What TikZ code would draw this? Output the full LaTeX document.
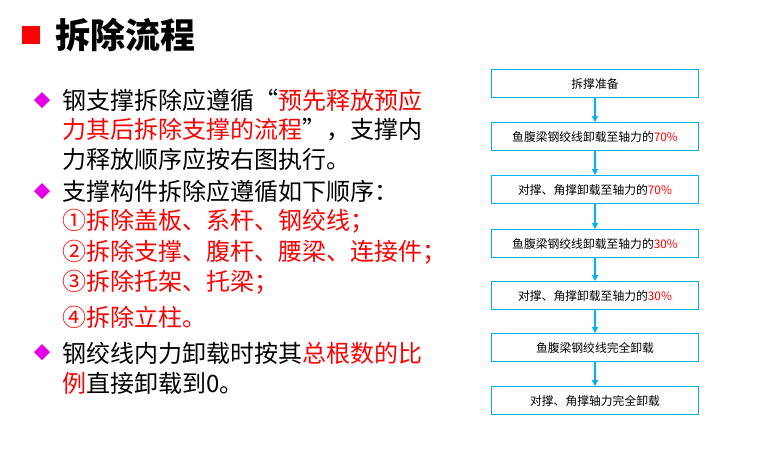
\documentclass[tikz,border=0pt]{standalone}
\usepackage{fontspec}
\setmainfont{Noto Sans CJK SC}
\usetikzlibrary{arrows.meta}
\definecolor{fblue}{RGB}{0,176,240}
\definecolor{tred}{RGB}{255,0,0}
\definecolor{mag}{RGB}{230,0,230}
\begin{document}
\begin{tikzpicture}[x=1pt,y=-1pt,
  fbox/.style={draw=fblue,line width=1.3pt,minimum width=207pt,minimum height=28pt,inner sep=0pt,font=\fontsize{11.8}{13}\selectfont,anchor=north},
  farr/.style={draw=fblue,line width=1.2pt,-{Triangle[length=6pt,width=6pt]}},
  ln/.style={anchor=base west,inner sep=0pt,font=\fontsize{24}{28}\selectfont}]
\useasboundingbox (0,0) rectangle (760,472);
\fill[tred] (22,26) rectangle (40,44);
\node[anchor=base west,inner sep=0pt,font=\fontsize{35}{38}\selectfont\bfseries] (title) at (55,48) {拆除流程};
% bullets
\foreach \y in {100,191,352}{
  \fill[mag] (42,\y-8) -- (50,\y) -- (42,\y+8) -- (34,\y) -- cycle;
}
\node[ln] (l1) at (62,109) {钢支撑拆除应遵循“\textcolor{tred}{预先释放预应}};
\node[ln] (l2) at (62,138) {\textcolor{tred}{力其后拆除支撑的流程}”，支撑内};
\node[ln] (l3) at (62,168) {力释放顺序应按右图执行。};
\node[ln] (l4) at (62,200) {支撑构件拆除应遵循如下顺序：};
\node[ln] (l5) at (62,229) {\textcolor{tred}{①拆除盖板、系杆、钢绞线；}};
\node[ln] (l6) at (62,260) {\textcolor{tred}{②拆除支撑、腹杆、腰梁、连接件；}};
\node[ln] (l7) at (62,290) {\textcolor{tred}{③拆除托架、托梁；}};
\node[ln] (l8) at (62,326) {\textcolor{tred}{④拆除立柱。}};
\node[ln] (l9) at (62,362) {钢绞线内力卸载时按其\textcolor{tred}{总根数的比}};
\node[ln] (l10) at (62,392) {\textcolor{tred}{例}直接卸载到0。};
% flowchart
\node[fbox] (f1) at (595,69) {拆撑准备};
\node[fbox] (f2) at (595,122) {鱼腹梁钢绞线卸载至轴力的\textcolor{tred}{70\%}};
\node[fbox] (f3) at (595,175) {对撑、角撑卸载至轴力的\textcolor{tred}{70\%}};
\node[fbox] (f4) at (595,229) {鱼腹梁钢绞线卸载至轴力的\textcolor{tred}{30\%}};
\node[fbox] (f5) at (595,281) {对撑、角撑卸载至轴力的\textcolor{tred}{30\%}};
\node[fbox] (f6) at (595,333) {鱼腹梁钢绞线完全卸载};
\node[fbox] (f7) at (595,386) {对撑、角撑轴力完全卸载};
\foreach \a/\b in {f1/f2,f2/f3,f3/f4,f4/f5,f5/f6,f6/f7}{\draw[farr] (\a) -- (\b);}
\end{tikzpicture}
\end{document}
